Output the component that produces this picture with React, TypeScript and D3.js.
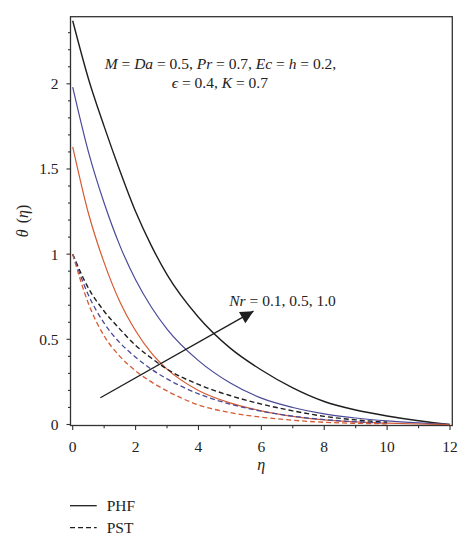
import { scaleLinear, line, curveMonotoneX, range } from "d3";

// η sample points
const ETA_SOLID = [0, 0.5, 1, 1.5, 2, 2.5, 3, 4, 5, 6, 7, 8, 9, 10, 11, 12];
const ETA_DASH = [0, 0.5, 1, 1.5, 2, 2.5, 3, 4, 5, 6, 7, 8, 9, 10];

// PHF (solid) θ values, Nr = 1.0, 0.5, 0.1
const PHF_BLACK = [2.37, 2.03, 1.75, 1.49, 1.25, 1.05, 0.88, 0.63, 0.45, 0.32, 0.215, 0.135, 0.085, 0.05, 0.022, 0];
const PHF_BLUE = [1.98, 1.6, 1.3, 1.05, 0.85, 0.69, 0.56, 0.375, 0.245, 0.155, 0.1, 0.062, 0.038, 0.021, 0.009, 0];
const PHF_RED = [1.63, 1.24, 0.95, 0.72, 0.55, 0.42, 0.325, 0.2, 0.127, 0.08, 0.048, 0.027, 0.015, 0.008, 0.003, 0];

// PST (dashed) θ values
const PST_BLACK = [1.0, 0.8, 0.665, 0.56, 0.465, 0.39, 0.325, 0.235, 0.17, 0.12, 0.08, 0.048, 0.027, 0.013];
const PST_BLUE = [1.0, 0.76, 0.595, 0.48, 0.395, 0.325, 0.268, 0.18, 0.12, 0.078, 0.049, 0.029, 0.016, 0.008];
const PST_RED = [1.0, 0.71, 0.52, 0.4, 0.315, 0.25, 0.197, 0.115, 0.07, 0.043, 0.025, 0.013, 0.007, 0.004];

const X_TICKS = [0, 2, 4, 6, 8, 10, 12];
const Y_TICKS = [0, 0.5, 1, 1.5, 2];
const Y_TICK_LABELS = ["0", "0.5", "1", "1.5", "2"];

// arrow (η, θ) start -> tip
const ARROW_FROM = [0.88, 0.157];
const ARROW_TO = [5.75, 0.665];

const BLACK = "#1e1e1e";
const BLUE = "#4a4a98";
const RED = "#d65a34";
const FONT = "'Liberation Serif', 'DejaVu Serif', serif";
const FS = 15.5;

const W = 474, H = 549;
const FRAME = { left: 70.5, right: 452.3, top: 16.7, bottom: 425.5 };

export default function App() {
  const x = scaleLinear().domain([0, 12]).range([72.7, 450]);
  const y = scaleLinear().domain([0, 2]).range([424.5, 83.8]);

  const mk = (etas: number[], vals: number[]) =>
    line<number>().x((_, i) => x(etas[i])).y(v => y(v)).curve(curveMonotoneX)(vals) ?? "";

  const series = [
    { d: mk(ETA_SOLID, PHF_BLACK), c: BLACK, dash: undefined, w: 1.4 },
    { d: mk(ETA_SOLID, PHF_BLUE), c: BLUE, dash: undefined, w: 1.2 },
    { d: mk(ETA_SOLID, PHF_RED), c: RED, dash: undefined, w: 1.2 },
    { d: mk(ETA_DASH, PST_BLACK), c: BLACK, dash: "5,3", w: 1.4 },
    { d: mk(ETA_DASH, PST_BLUE), c: BLUE, dash: "5,3", w: 1.3 },
    { d: mk(ETA_DASH, PST_RED), c: RED, dash: "5,3", w: 1.3 },
  ];

  const xMinor = range(0, 13, 1);
  const yMinor = range(0, 24, 1).map(i => i / 10);

  return (
    <svg width={W} height={H} viewBox={`0 0 ${W} ${H}`}
      style={{ position: "absolute", left: 0, top: 0, background: "#fff" }}
      fontFamily={FONT}>
      <defs>
        <marker id="ah" markerUnits="userSpaceOnUse" markerWidth={16} markerHeight={16}
          viewBox="0 0 16 16" refX={14} refY={8} orient="auto">
          <path d="M1,1.5 L14,8 L1,14.5 Z" fill={BLACK} />
        </marker>
      </defs>

      {/* curves */}
      {series.map((s, i) => (
        <path key={i} d={s.d} fill="none" stroke={s.c} strokeWidth={s.w}
          strokeDasharray={s.dash} />
      ))}

      {/* frame */}
      <rect x={FRAME.left} y={FRAME.top} width={FRAME.right - FRAME.left}
        height={FRAME.bottom - FRAME.top} fill="none" stroke="#333" strokeWidth={1.3} />

      {/* x ticks */}
      {xMinor.map(t => (
        <line key={"xm" + t} x1={x(t)} x2={x(t)} y1={FRAME.bottom}
          y2={FRAME.bottom + (t % 2 === 0 ? 4.5 : 2.8)} stroke="#333" strokeWidth={1.1} />
      ))}
      {X_TICKS.map(t => (
        <text key={"xl" + t} x={x(t)} y={452} textAnchor="middle" fontSize={FS} fill="#222">{t}</text>
      ))}

      {/* y ticks */}
      {yMinor.map((t, i) => (
        <line key={"ym" + i} x1={FRAME.left - (i % 5 === 0 ? 4 : 2.5)} x2={FRAME.left}
          y1={y(t)} y2={y(t)} stroke="#333" strokeWidth={1.1} />
      ))}
      {Y_TICKS.map((t, i) => (
        <text key={"yl" + t} x={58.5} y={y(t)} dy="0.35em" textAnchor="end" fontSize={FS} fill="#222">
          {Y_TICK_LABELS[i]}
        </text>
      ))}

      {/* axis titles */}
      <text x={261.3} y={470} textAnchor="middle" fontSize={16} fontStyle="italic" fill="#222">η</text>
      <text transform={`translate(28,221) rotate(-90)`} textAnchor="middle" fontSize={16} fill="#222">
        <tspan fontStyle="italic">θ</tspan><tspan dx={6}>(</tspan><tspan fontStyle="italic">η</tspan>)
      </text>

      {/* parameter annotation */}
      <text x={x(4.7)} y={y(2.085)} textAnchor="middle" fontSize={FS} fill="#222">
        <tspan fontStyle="italic">M</tspan> = <tspan fontStyle="italic">Da</tspan> = 0.5,{" "}
        <tspan fontStyle="italic">Pr</tspan> = 0.7, <tspan fontStyle="italic">Ec</tspan> ={" "}
        <tspan fontStyle="italic">h</tspan> = 0.2,
      </text>
      <text x={x(4.68)} y={y(1.978)} textAnchor="middle" fontSize={FS} fill="#222">
        <tspan fontStyle="italic">ϵ</tspan> = 0.4, <tspan fontStyle="italic">K</tspan> = 0.7
      </text>

      {/* arrow */}
      <line x1={x(ARROW_FROM[0])} y1={y(ARROW_FROM[1])} x2={x(ARROW_TO[0])} y2={y(ARROW_TO[1])}
        stroke={BLACK} strokeWidth={1.4} markerEnd="url(#ah)" />
      <text x={x(4.98)} y={y(0.695)} fontSize={FS} fill="#222">
        <tspan fontStyle="italic">Nr</tspan> = 0.1, 0.5, 1.0
      </text>

      {/* legend */}
      <line x1={70} x2={96.7} y1={505.7} y2={505.7} stroke={BLACK} strokeWidth={1.3} />
      <text x={106.7} y={511} fontSize={FS} fill="#222">PHF</text>
      <line x1={70} x2={96.7} y1={527.7} y2={527.7} stroke={BLACK} strokeWidth={1.3} strokeDasharray="5,3" />
      <text x={106.7} y={533} fontSize={FS} fill="#222">PST</text>
    </svg>
  );
}
